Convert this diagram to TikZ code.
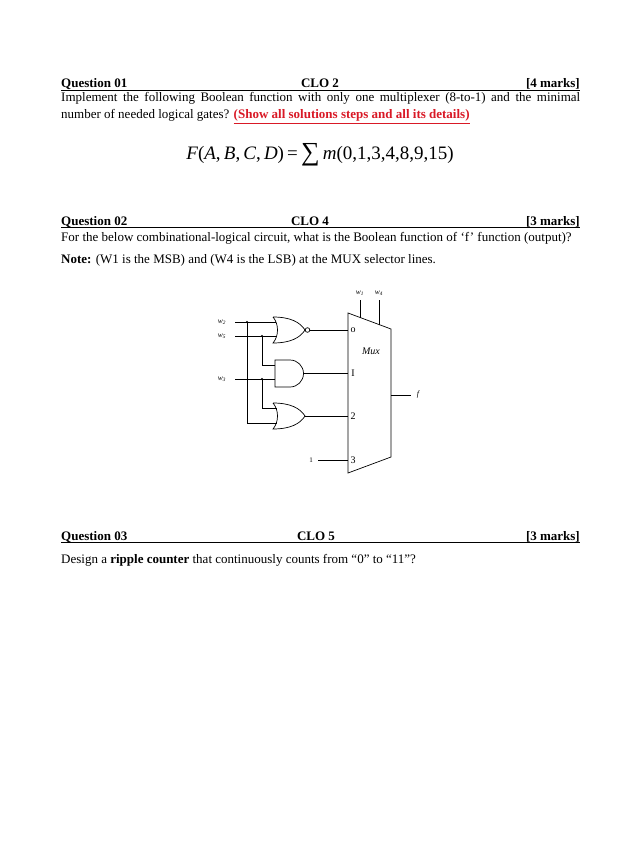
\documentclass[tikz,border=0pt]{standalone}
\usepackage{fontspec}
\setmainfont{Liberation Serif}
\begin{document}
\begin{tikzpicture}[x=1pt,y=-1pt,
  txt/.style={anchor=base west,inner sep=0pt,font=\fontsize{13}{17.5}\selectfont},
  wire/.style={line width=0.7pt},
  sm/.style={inner sep=0pt,font=\fontsize{7.5}{7.5}\selectfont\itshape},
  mx/.style={inner sep=0pt,font=\fontsize{10}{10}\selectfont}]
\useasboundingbox[fill=white] (0,0) rectangle (640,864);
% Question 01
\node[txt] (q1) at (61,88) {\textbf{Question 01}};
\node[txt,anchor=base] (c1) at (320,88) {\textbf{CLO 2}};
\node[txt,anchor=base east] (m1) at (580,88) {\textbf{[4 marks]}};
\draw[line width=1.2pt] (61,90.5) -- (580,90.5);
\node[txt,anchor=north west,text width=519pt,align=justify] (t1) at (61,92) {Implement the following Boolean function with only one multiplexer (8-to-1) and the minimal\linebreak number of needed logical gates? {\color[rgb]{0.85,0.1,0.15}\underline{\textbf{(Show all solutions steps and all its details)}}}};
\node[txt,anchor=base,font=\fontsize{19}{19}\selectfont] (f1) at (320,159) {\textit{F}(\textit{A},\,\textit{B},\,\textit{C},\,\textit{D})\,=\,{\fontsize{26}{26}\selectfont\raisebox{-1pt}{∑}}\,\textit{m}(0,1,3,4,8,9,15)};
% Question 02
\node[txt] (q2) at (61,225) {\textbf{Question 02}};
\node[txt,anchor=base] (c2) at (310,225) {\textbf{CLO 4}};
\node[txt,anchor=base east] (m2) at (580,225) {\textbf{[3 marks]}};
\draw[line width=1.2pt] (61,227.5) -- (580,227.5);
\node[txt] (t2) at (61,241) {For the below combinational-logical circuit, what is the Boolean function of `f' function (output)?};
\node[txt] (t3) at (61,263) {\textbf{Note:} (W1 is the MSB) and (W4 is the LSB) at the MUX selector lines.};
% circuit
\draw[wire] (348,313) -- (391,329) -- (391,457) -- (348,473) -- cycle;
\draw[wire] (360,317.5) -- (360,300); \draw[wire] (379,324.5) -- (379,300);
\node[sm] (lw1) at (360,293) {w\textsubscript{1}}; \node[sm] (lw4) at (379,293) {w\textsubscript{4}};
\node[mx] at (371,351) {\textit{Mux}};
\node[mx] at (353,330) {o}; \node[mx] at (353,373) {I}; \node[mx] at (353,416) {2}; \node[mx] at (353,460) {3};
\draw[wire] (391,395) -- (411,395); \node[sm,font=\fontsize{8}{8}\selectfont\itshape] at (418,395) {f};
% NOR gate
\draw[wire] (273,317) .. controls (290,317) and (300,322) .. (305,330) .. controls (300,338) and (290,343) .. (273,343) .. controls (279,336) and (279,324) .. (273,317);
\draw[wire] (307.5,330) circle (2.3);
\draw[wire] (310,330) -- (348,330);
% AND gate
\draw[wire] (275,360) -- (290,360) arc (-90:90:13.5) -- (275,387) -- cycle;
\draw[wire] (303.5,373.5) -- (348,373.5);
% OR gate
\draw[wire] (273,403) .. controls (290,403) and (300,408) .. (305,416) .. controls (300,424) and (290,429) .. (273,429) .. controls (279,422) and (279,410) .. (273,403);
\draw[wire] (305,416) -- (348,416);
% inputs
\node[sm] (lw2) at (222,322) {w\textsubscript{2}}; \node[sm] (lw5) at (222,336) {w\textsubscript{5}}; \node[sm] (lw3) at (222,379) {w\textsubscript{3}};
\draw[wire] (235,322) -- (276,322);
\draw[wire] (235,336) -- (277,336);
\draw[wire] (235,379) -- (275,379);
\draw[wire] (247,322) -- (247,423) -- (277,423);
\draw[wire] (262,336) -- (262,365) -- (275,365);
\draw[wire] (262,379) -- (262,408) -- (277,408);
\fill (247,322) circle (1.2); \fill (262,336) circle (1.2); \fill (262,379) circle (1.2);
\node[sm,font=\fontsize{7}{7}\selectfont] (one) at (311,460) {1};
\draw[wire] (318,460) -- (348,460);
% Question 03
\node[txt] (q3) at (61,540) {\textbf{Question 03}};
\node[txt,anchor=base] (c3) at (316,540) {\textbf{CLO 5}};
\node[txt,anchor=base east] (m3) at (580,540) {\textbf{[3 marks]}};
\draw[line width=1.2pt] (61,542.5) -- (580,542.5);
\node[txt] (t4) at (61,563) {Design a \textbf{ripple counter} that continuously counts from ``0'' to ``11''?};
\end{tikzpicture}
\end{document}
